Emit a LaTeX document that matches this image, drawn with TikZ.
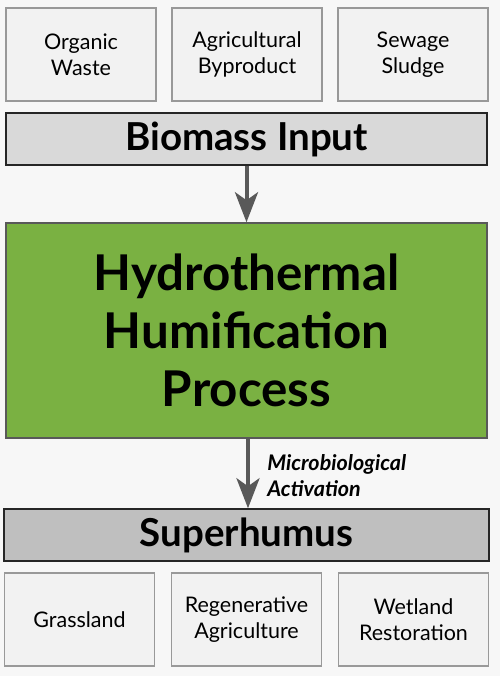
\documentclass[tikz,border=0pt]{standalone}
\usepackage{fontspec}
\setmainfont{Lato}
\usetikzlibrary{arrows.meta}
\definecolor{bgcol}{HTML}{F7F7F7}
\definecolor{srcfill}{HTML}{F2F2F2}
\definecolor{srcline}{HTML}{999999}
\definecolor{inputfill}{HTML}{D9D9D9}
\definecolor{humusfill}{HTML}{BFBFBF}
\definecolor{procfill}{HTML}{7AB142}
\definecolor{arrowcol}{HTML}{595959}
\tikzset{
  srcbox/.style={draw=srcline,fill=srcfill,line width=1.5pt,minimum width=150pt,
    minimum height=93pt,align=center,inner sep=0pt,font=\fontsize{21.5}{26}\selectfont},
  bandbox/.style={draw=black!85,line width=1.5pt,minimum height=52pt,inner sep=0pt,
    font=\bfseries\fontsize{38.5}{42}\selectfont},
  flow/.style={draw=arrowcol,line width=4pt,-{Stealth[length=30pt,width=23pt,inset=8pt]}}
}
\begin{document}
\begin{tikzpicture}[x=1pt,y=1pt,line join=miter]
        \useasboundingbox[fill=bgcol] (0,0) rectangle (500,-676);
        % source materials
        \foreach \lbl [count=\i] in {Organic\\Waste,Agricultural\\Byproduct,Sewage\\Sludge}
          \node[srcbox] (src\i) at ({81+166*(\i-1)},-54.5) {\lbl};
        \node[bandbox,fill=inputfill,minimum width=481pt] (input) at (246.5,-139) {Biomass Input};
        \node[draw=arrowcol,fill=procfill,line width=1.5pt,minimum width=481pt,minimum height=215pt,
          align=center,inner sep=0pt,font=\bfseries\fontsize{49.3}{58}\selectfont]
          (proc) at (246.5,-330.5) {Hydrothermal\\Humification\\Process};
        \node[bandbox,fill=humusfill,minimum width=485pt] (humus) at (246.5,-535) {Superhumus};
        % applications
        \foreach \lbl [count=\i] in {Grassland,Regenerative\\Agriculture,Wetland\\Restoration}
          \node[srcbox] (use\i) at ({79.5+167*(\i-1)},-619.5) {\lbl};
        \draw[flow] (input.south) -- (proc.north);
        \draw[flow] ([xshift=1.5pt]proc.south) -- ([xshift=1.5pt]humus.north)
          node[midway,anchor=west,xshift=14pt,yshift=-2pt,align=left,
            font=\bfseries\itshape\fontsize{21.5}{26}\selectfont] (act) {Microbiological\\Activation};
\end{tikzpicture}
\end{document}
